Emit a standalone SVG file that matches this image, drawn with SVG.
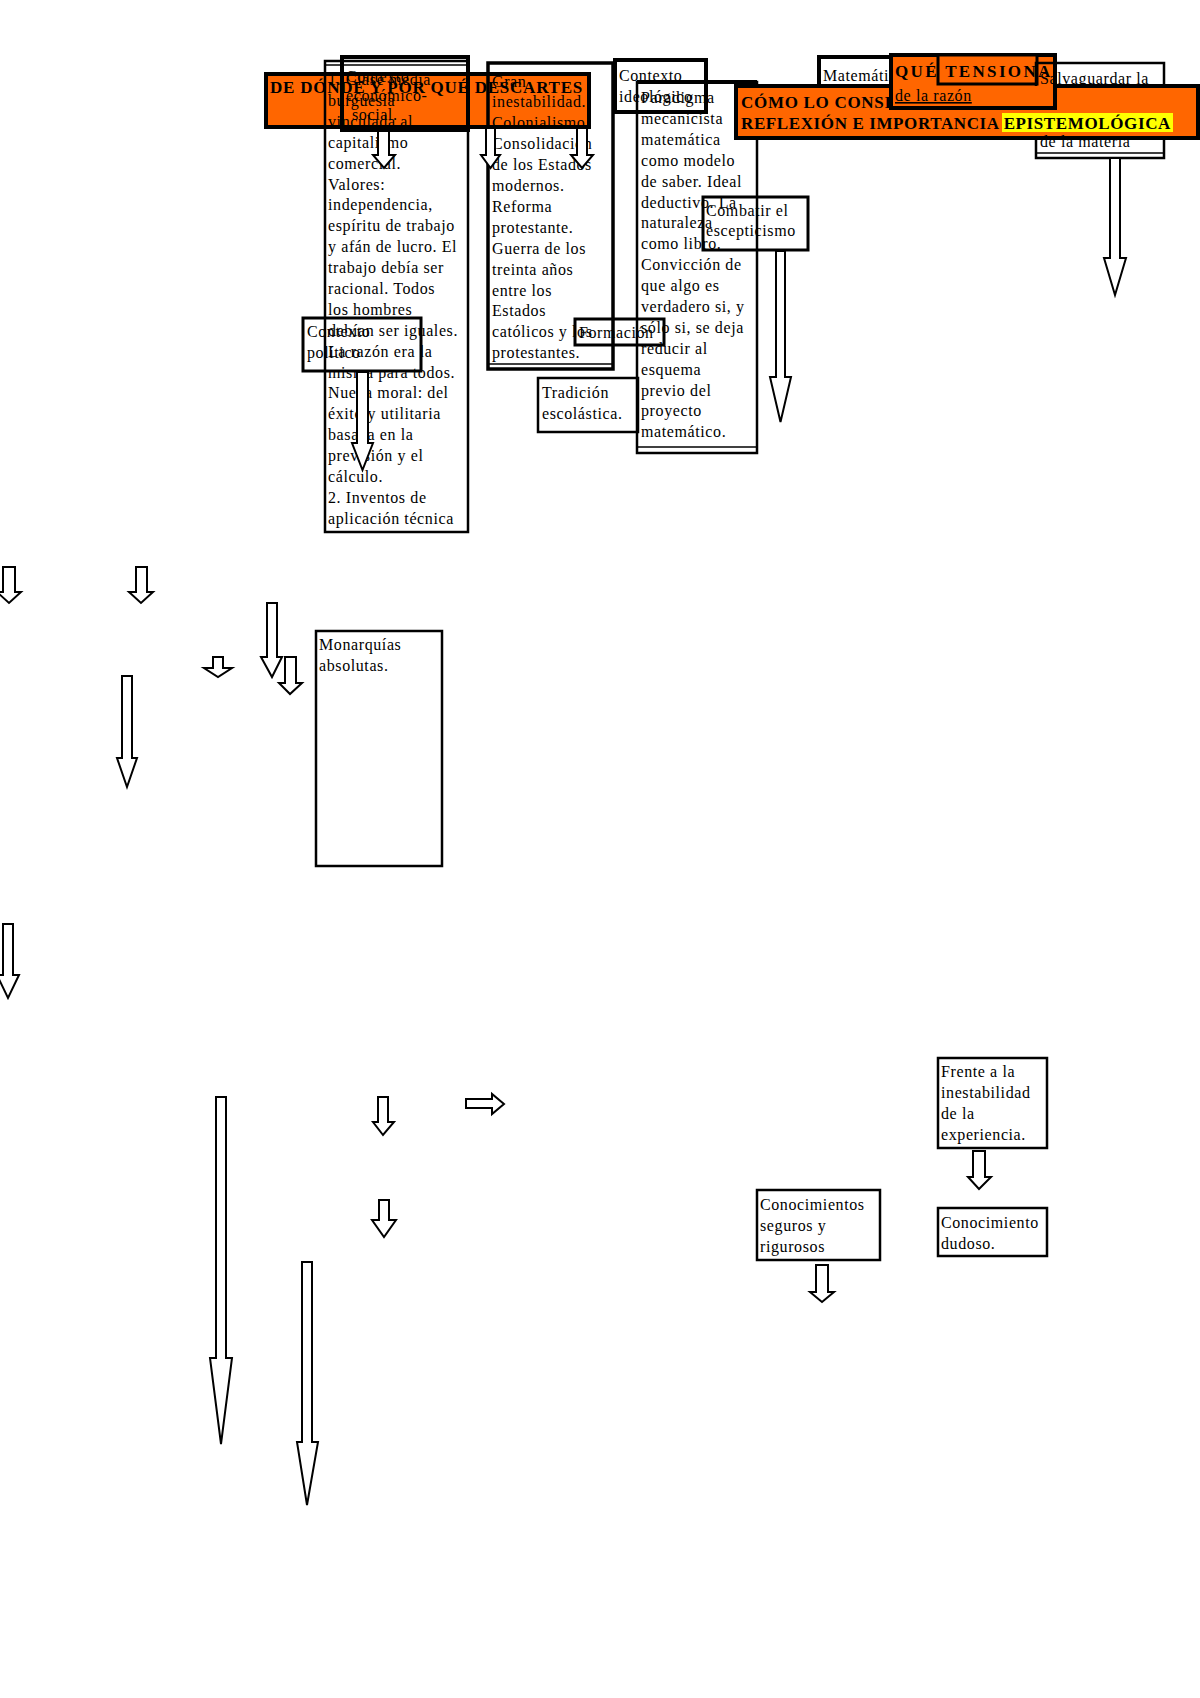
<svg xmlns="http://www.w3.org/2000/svg" width="1200" height="1698" viewBox="0 0 1200 1698">
<style>
.t{font-family:"Liberation Serif","Times New Roman",serif;font-size:16px;letter-spacing:0.6px;fill:#000}
.b{font-weight:bold;font-size:17px;letter-spacing:0.7px}
.box{fill:none;stroke:#000;stroke-width:2.5}
.thick{stroke-width:4}
.dbl{stroke:#000;stroke-width:1.5;fill:none}
.org{fill:#FF6600;stroke:#000;stroke-width:4}
.arr{fill:#fff;stroke:#000;stroke-width:2}
</style>
<rect width="1200" height="1698" fill="#fff"/>

<g id="titulo-donde">
<rect class="org" x="266" y="74" width="323" height="53"/>
<text class="t b" x="270" y="93" textLength="313" lengthAdjust="spacing">DE DÓNDE Y POR QUÉ DESCARTES</text>
</g>

<g id="clase-burguesa">
<rect class="box" x="325" y="61" width="143" height="471"/>
<line class="dbl" x1="325" y1="65" x2="468" y2="65"/>
<text class="t" x="328" y="85">1. Clase media<tspan x="328" dy="20.9">burguesía</tspan><tspan x="328" dy="20.9">vinculada al</tspan><tspan x="328" dy="20.9">capitalismo</tspan><tspan x="328" dy="20.9">comercial.</tspan><tspan x="328" dy="20.9">Valores:</tspan><tspan x="328" dy="20.9">independencia,</tspan><tspan x="328" dy="20.9">espíritu de trabajo</tspan><tspan x="328" dy="20.9">y afán de lucro. El</tspan><tspan x="328" dy="20.9">trabajo debía ser</tspan><tspan x="328" dy="20.9">racional. Todos</tspan><tspan x="328" dy="20.9">los hombres</tspan><tspan x="328" dy="20.9">debían ser iguales.</tspan><tspan x="328" dy="20.9">La razón era la</tspan><tspan x="328" dy="20.9">misma para todos.</tspan><tspan x="328" dy="20.9">Nueva moral:  del</tspan><tspan x="328" dy="20.9">éxito y utilitaria</tspan><tspan x="328" dy="20.9">basada en la</tspan><tspan x="328" dy="20.9">previsión y el</tspan><tspan x="328" dy="20.9">cálculo.</tspan><tspan x="328" dy="20.9">2. Inventos de</tspan><tspan x="328" dy="20.9">aplicación técnica</tspan></text>
</g>

<g id="contexto-economico">
<rect class="box thick" x="342" y="57" width="126" height="73"/>
<text class="t" x="346" y="82">Contexto<tspan x="346" dy="19">económico-</tspan><tspan x="352" dy="19">social.</tspan></text>
</g>

<g id="inestabilidad">
<rect class="box" x="488" y="63" width="125" height="306" style="stroke-width:3.5"/>
<line class="dbl" x1="488" y1="364" x2="613" y2="364"/>
<line x1="613" y1="63" x2="615" y2="63" stroke="#000" stroke-width="4"/>
<text class="t" x="492" y="86.5">Gran<tspan x="492" dy="20.9">inestabilidad.</tspan><tspan x="492" dy="20.9">Colonialismo.</tspan><tspan x="492" dy="20.9">Consolidación</tspan><tspan x="492" dy="20.9">de los Estados</tspan><tspan x="492" dy="20.9">modernos.</tspan><tspan x="492" dy="20.9">Reforma</tspan><tspan x="492" dy="20.9">protestante.</tspan><tspan x="492" dy="20.9">Guerra de los</tspan><tspan x="492" dy="20.9">treinta años</tspan><tspan x="492" dy="20.9">entre los</tspan><tspan x="492" dy="20.9">Estados</tspan><tspan x="492" dy="20.9">católicos y los</tspan><tspan x="492" dy="20.9">protestantes.</tspan></text>
</g>

<g id="contexto-ideologico">
<rect class="box thick" x="615" y="60" width="91" height="52"/>
<text class="t" x="619" y="81">Contexto<tspan x="619" dy="21">ideológico</tspan></text>
</g>

<g id="paradigma">
<rect class="box" x="637" y="82" width="120" height="371"/>
<line x1="637" y1="82" x2="757" y2="82" stroke="#000" stroke-width="4"/>
<line class="dbl" x1="637" y1="447" x2="757" y2="447"/>
<text class="t" x="641" y="103">Paradigma<tspan x="641" dy="20.9">mecanicista</tspan><tspan x="641" dy="20.9">matemática</tspan><tspan x="641" dy="20.9">como modelo</tspan><tspan x="641" dy="20.9">de saber. Ideal</tspan><tspan x="641" dy="20.9">deductivo. La</tspan><tspan x="641" dy="20.9">naturaleza</tspan><tspan x="641" dy="20.9">como libro.</tspan><tspan x="641" dy="20.9">Convicción de</tspan><tspan x="641" dy="20.9">que algo es</tspan><tspan x="641" dy="20.9">verdadero si, y</tspan><tspan x="641" dy="20.9">sólo si, se deja</tspan><tspan x="641" dy="20.9">reducir al</tspan><tspan x="641" dy="20.9">esquema</tspan><tspan x="641" dy="20.9">previo del</tspan><tspan x="641" dy="20.9">proyecto</tspan><tspan x="641" dy="20.9">matemático.</tspan></text>
</g>

<g id="combatir">
<rect class="box" x="703" y="197" width="105" height="53" style="stroke-width:3"/>
<text class="t" x="706" y="216">Combatir el<tspan x="706" dy="20">escepticismo</tspan></text>
</g>

<g id="matematica">
<rect class="box thick" x="819" y="57" width="236" height="50"/>
<text class="t" x="823" y="81">Matemática</text>
</g>

<g id="titulo-como">
<rect class="org" x="736" y="86" width="462" height="52"/>
<rect x="1002" y="113" width="171" height="19" fill="#FFFF00"/>
<text class="t b" x="741" y="108">CÓMO LO CONSIGUE</text>
<text class="t b" x="741" y="129" textLength="430" lengthAdjust="spacing">REFLEXIÓN E IMPORTANCIA EPISTEMOLÓGICA</text>
</g>

<g id="que-tensiona">
<rect class="org" x="891" y="55" width="164" height="53"/>
<rect class="org" x="938" y="55" width="99" height="29" style="stroke-width:3"/>
<text class="t b" x="895" y="77" textLength="156" lengthAdjust="spacing">QUÉ TENSIONA</text>
<text class="t" x="895" y="101" text-decoration="underline">de la razón</text>
</g>

<g id="salvaguardar">
<path class="box" d="M1036 86V63H1164V86M1036 139V158H1164V139"/>
<line class="dbl" x1="1036" y1="153" x2="1164" y2="153"/>
<text class="t" x="1040" y="84">Salvaguardar la<tspan x="1040" dy="63">de la materia</tspan></text>
</g>

<g id="contexto-politico">
<rect class="box" x="303" y="318" width="118" height="53" style="stroke-width:3"/>
<text class="t" x="307" y="337">Contexto<tspan x="307" dy="21">político</tspan></text>
</g>

<g id="formacion">
<rect class="box" x="575" y="319" width="89" height="26" style="stroke-width:3"/>
<text class="t" x="579" y="338">Formación</text>
</g>

<g id="tradicion">
<rect class="box" x="538" y="378" width="100" height="54"/>
<text class="t" x="542" y="398">Tradición<tspan x="542" dy="21">escolástica.</tspan></text>
</g>

<g id="monarquias">
<rect class="box" x="316" y="631" width="126" height="235"/>
<text class="t" x="319" y="650">Monarquías<tspan x="319" dy="21">absolutas.</tspan></text>
</g>

<g id="frente">
<rect class="box" x="938" y="1058" width="109" height="90"/>
<text class="t" x="941" y="1077">Frente a la<tspan x="941" dy="21">inestabilidad</tspan><tspan x="941" dy="21">de la</tspan><tspan x="941" dy="21">experiencia.</tspan></text>
</g>

<g id="dudoso">
<rect class="box" x="938" y="1208" width="109" height="48"/>
<text class="t" x="941" y="1228">Conocimiento<tspan x="941" dy="21">dudoso.</tspan></text>
</g>

<g id="seguros">
<rect class="box" x="757" y="1190" width="123" height="70"/>
<text class="t" x="760" y="1210">Conocimientos<tspan x="760" dy="21">seguros y</tspan><tspan x="760" dy="21">rigurosos</tspan></text>
</g>

<g id="connectors">
<path class="arr" d="M378 131H389V155H395L384 168L373 155H378Z"/>
<path class="arr" d="M486 128H495V155H500L490.5 168L481 155H486Z"/>
<path class="arr" d="M577 128H587V155H593L582 168L571 155H577Z"/>
<path class="arr" d="M1110 158H1120V258H1126L1115 295L1104 258H1110Z"/>
<path class="arr" d="M776 251H785V377H791L780.5 422L770 377H776Z"/>
<path class="arr" d="M357 372H368V443H373L362.5 470L352 443H357Z"/>
<path class="arr" d="M3 567H15V592H21L9 603L-3 592H3Z"/>
<path class="arr" d="M136 567H147V592H153L141 603L129 592H136Z"/>
<path class="arr" d="M267 603H277V657H282L272 677L261 657H267Z"/>
<path class="arr" d="M213 657H223V668H232L218 677L204 668H213Z"/>
<path class="arr" d="M285 657H296V683H302L290 694L279 683H285Z"/>
<path class="arr" d="M122 676H132V758H137L127 787L117 758H122Z"/>
<path class="arr" d="M3 924H13V975H19L8 998L-3 975H3Z"/>
<path class="arr" d="M216 1097H226V1358H232L221 1444L210 1358H216Z"/>
<path class="arr" d="M302 1262H312V1442H318L307 1505L297 1442H302Z"/>
<path class="arr" d="M378 1097H388V1122H394L383 1135L373 1122H378Z"/>
<path class="arr" d="M379 1200H389V1220H396L384 1237L372 1220H379Z"/>
<path class="arr" d="M466 1099H492V1094L504 1104L492 1114V1108H466Z"/>
<path class="arr" d="M973 1151H985V1177H991L979 1189L968 1177H973Z"/>
<path class="arr" d="M816 1265H828V1292H834L822 1302L810 1292H816Z"/>
</g>
</svg>
